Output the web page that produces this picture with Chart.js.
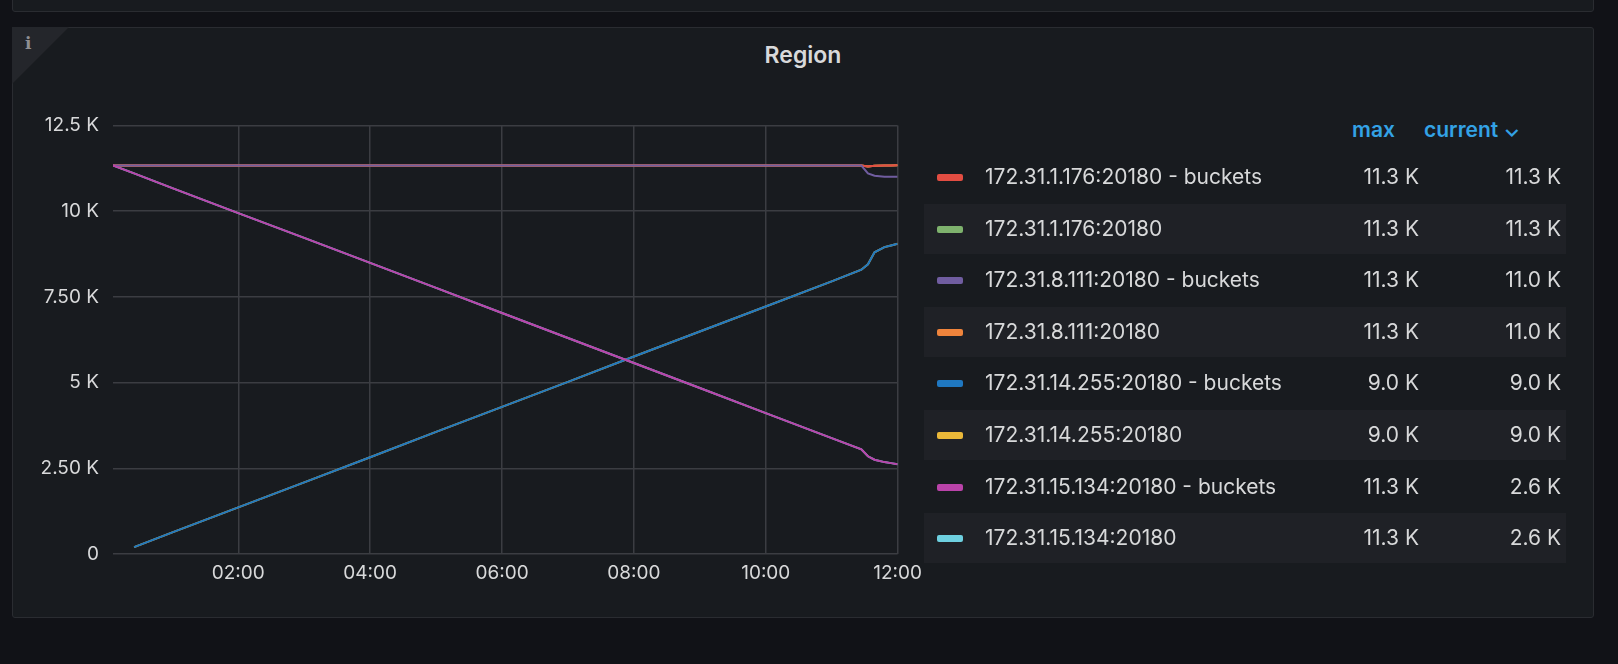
<!DOCTYPE html>
<html><head><meta charset="utf-8">
<script src="https://cdn.jsdelivr.net/npm/chart.js@4"></script>
<style>
body{margin:0;background:#111217;width:1618px;height:664px;overflow:hidden;font-family:Inter,"Noto Sans",sans-serif;color:#d8d9da}
.top{position:absolute;left:12px;top:-10px;width:1580px;height:20px;border:1px solid #2a2c31;border-radius:3px;background:#181b1f}
.panel{position:absolute;left:12px;top:27px;width:1580px;height:589px;border:1px solid #2a2c31;border-radius:3px;background:#181b1f}
.corner{position:absolute;left:12px;top:27px;width:0;height:0;border-top:57px solid #24262b;border-right:57px solid transparent}
.info{position:absolute;left:25px;top:33px;font:bold 17px "DejaVu Serif",serif;color:#8e8e93}
.title{position:absolute;left:0;width:1606px;top:41px;text-align:center;font-size:23px;font-weight:600;color:#d8d9da}
#wrap{position:absolute;left:20px;top:100px;width:910px;height:500px}
.hdr{position:absolute;top:117px;font-size:21px;font-weight:600;color:#33a2e5}
.row{position:absolute;left:924px;width:642px;height:50px;font-size:21px;line-height:50px}
.row.alt{background:#1f2126}
.sw{position:absolute;left:13px;top:22px;width:26px;height:7px;border-radius:2px}
.nm{position:absolute;left:61px}
.mx{position:absolute;right:147px}
.cu{position:absolute;right:5px}
</style></head><body>
<div class="top"></div>
<div class="panel"></div><div class="corner"></div><div class="info">i</div>
<div class="title">Region</div>
<div id="wrap"><canvas id="c"></canvas></div>
<div class="hdr" style="left:1352px">max</div>
<div class="hdr" style="left:1424px">current &#8964;</div>
<div id="legend"></div>
<script>
const times=[0.1,0.42,1,2,3,4,5,6,7,8,9,10,11,11.45,11.55,11.65,11.8,11.9,12];
const seriesNames=["172.31.1.176:20180 - buckets","172.31.1.176:20180","172.31.8.111:20180 - buckets","172.31.8.111:20180","172.31.14.255:20180 - buckets","172.31.14.255:20180","172.31.15.134:20180 - buckets","172.31.15.134:20180"];
const seriesColors=["#e24d42","#7eb26d","#705da0","#ef843c","#1f78c1","#eab839","#ba43a9","#6ed0e0"];
const maxLabels=["11.3 K","11.3 K","11.3 K","11.3 K","9.0 K","9.0 K","11.3 K","11.3 K"];
const currentLabels=["11.3 K","11.3 K","11.0 K","11.0 K","9.0 K","9.0 K","2.6 K","2.6 K"];
const flatTop=[11.33,11.33,11.33,11.33,11.33,11.33,11.33,11.33,11.33,11.33,11.33,11.33,11.33,11.33,11.3,11.32,11.33,11.33,11.34];
const droppingTop=[11.33,11.33,11.33,11.33,11.33,11.33,11.33,11.33,11.33,11.33,11.33,11.33,11.33,11.33,11.1,11.03,11.0,11.0,11.0];
const rising=[null,0.2,0.63,1.36,2.09,2.82,3.56,4.29,5.02,5.76,6.49,7.22,7.95,8.29,8.45,8.8,8.95,9.0,9.05];
const falling=[11.33,11.1,10.67,9.94,9.22,8.49,7.76,7.03,6.3,5.57,4.84,4.11,3.38,3.05,2.85,2.75,2.68,2.65,2.62];
const seriesValues=[flatTop,flatTop,droppingTop,flatTop,rising,rising,falling,falling];
const yTickLabels={0:"0",2.5:"2.50 K",5:"5 K",7.5:"7.50 K",10:"10 K",12.5:"12.5 K"};

let lg='';
seriesNames.forEach((n,i)=>{
  lg+=`<div class="row${i%2?' alt':''}" style="top:${152+i*51.6}px"><div class="sw" style="background:${seriesColors[i]}"></div><span class="nm">${n}</span><span class="mx">${maxLabels[i]}</span><span class="cu">${currentLabels[i]}</span></div>`;
});
document.getElementById('legend').innerHTML=lg;

// first dataset is drawn on top in Chart.js
const order=[6,4,2,0,3,1,5,7];
const datasets=order.map(i=>({label:seriesNames[i],data:times.map((t,k)=>({x:t,y:seriesValues[i][k]})),borderColor:seriesColors[i],borderWidth:2,pointRadius:0,tension:0,fill:false}));
new Chart(document.getElementById('c'),{type:'line',data:{datasets},
options:{responsive:true,maintainAspectRatio:false,animation:false,
layout:{padding:{top:16,right:20,left:0,bottom:0}},
plugins:{legend:{display:false},tooltip:{enabled:false}},
scales:{
 x:{type:'linear',min:0.1,max:12,afterFit:s=>{s.height=46;},
   afterBuildTicks:s=>{s.ticks=[2,4,6,8,10,12].map(v=>({value:v}));},
   ticks:{color:'#d8d9da',font:{size:19,family:'Inter'},padding:8,maxRotation:0,callback:v=>String(v).padStart(2,'0')+':00'},
   grid:{color:'#3b3d42',lineWidth:1.5,drawTicks:false},border:{display:false}},
 y:{min:0,max:12.5,afterFit:s=>{s.width=93;},
   afterBuildTicks:s=>{s.ticks=[0,2.5,5,7.5,10,12.5].map(v=>({value:v}));},
   ticks:{color:'#d8d9da',font:{size:19,family:'Inter'},padding:14,callback:v=>yTickLabels[v]},
   grid:{color:'#3b3d42',lineWidth:1.5,drawTicks:false},border:{display:false}}
}}});
</script></body></html>
